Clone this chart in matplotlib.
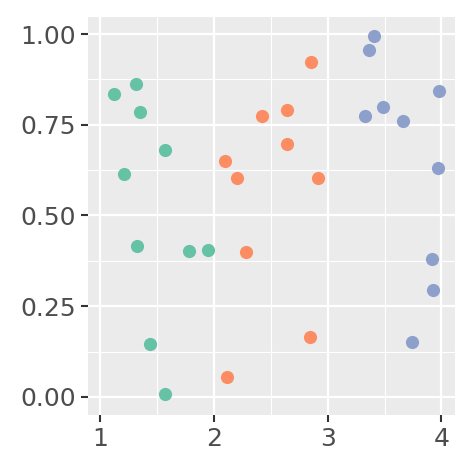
import matplotlib
matplotlib.use("Agg")
import matplotlib.pyplot as plt

gx = [1.12,1.31,1.35,1.57,1.21,1.32,1.78,1.95,1.44,1.57]
gy = [0.835,0.862,0.785,0.68,0.614,0.416,0.402,0.405,0.146,0.008]
ox = [2.85,2.42,2.64,2.64,2.10,2.20,2.91,2.28,2.84,2.11]
oy = [0.923,0.774,0.79,0.697,0.65,0.603,0.603,0.40,0.165,0.055]
bx = [3.41,3.36,3.49,3.33,3.66,3.98,3.97,3.92,3.93,3.74]
by = [0.994,0.956,0.80,0.774,0.76,0.843,0.631,0.38,0.295,0.152]
colors = ["#66c2a5", "#fc8d62", "#8da0cb"]

fig = plt.figure(figsize=(4.74, 4.74), dpi=100)
ax = fig.add_axes([88/474, 1-415/474, (455-88)/474, (415-17)/474])
ax.set_facecolor("#ebebeb")
for (x, y), c in zip([(gx, gy), (ox, oy), (bx, by)], colors):
    ax.scatter(x, y, s=90, color=c, zorder=3, linewidths=0)
ax.set_xlim(0.89, 4.12)
ax.set_ylim(-0.05, 1.047)
ax.set_xticks([1, 2, 3, 4])
ax.set_yticks([0, 0.25, 0.5, 0.75, 1.0])
ax.set_yticklabels(["0.00", "0.25", "0.50", "0.75", "1.00"])
ax.set_xticks([1.5, 2.5, 3.5], minor=True)
ax.set_yticks([0.125, 0.375, 0.625, 0.875], minor=True)
ax.grid(True, which="major", color="white", linewidth=1.6)
ax.grid(True, which="minor", color="white", linewidth=0.8)
ax.set_axisbelow(True)
for s in ax.spines.values():
    s.set_visible(False)
ax.tick_params(which="major", labelsize=18, colors="#333333", length=5, width=1.5, labelcolor="#4d4d4d")
ax.tick_params(which="minor", length=0)
fig.savefig("out.png", dpi=100)
